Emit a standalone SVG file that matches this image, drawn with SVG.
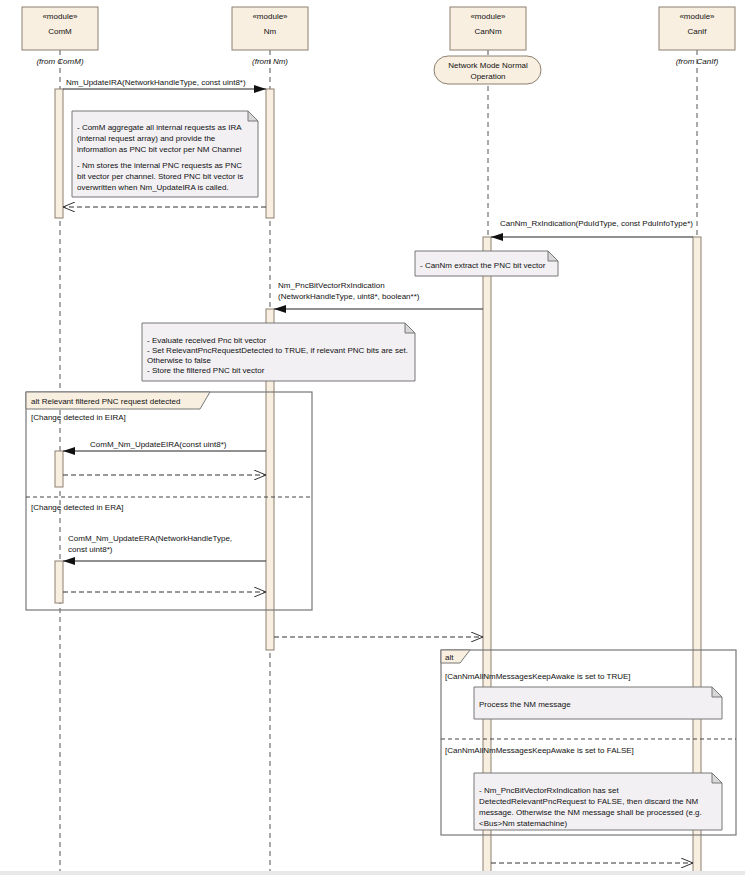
<svg xmlns="http://www.w3.org/2000/svg" width="745" height="875" viewBox="0 0 745 875">
<style>
text{font-family:"Liberation Sans",Arial,sans-serif;font-size:8px;fill:#111}
.hd{fill:#f9efe0;stroke:#8c8070;stroke-width:1}
.act{fill:#f9efe0;stroke:#8c8070;stroke-width:1}
.ll{stroke:#555;stroke-width:1;stroke-dasharray:5,4;fill:none}
.note{fill:#f3f0f4;stroke:#777;stroke-width:1}
.fold{fill:#d8d8d8;stroke:#777;stroke-width:1}
.msg{stroke:#222;stroke-width:1;fill:none}
.ret{stroke:#333;stroke-width:1;stroke-dasharray:5,3;fill:none}
.frame{fill:none;stroke:#777;stroke-width:1.2}
.div{stroke:#444;stroke-width:1;stroke-dasharray:4,3}
.it{font-style:italic}
</style>
<defs>
<marker id="fa" markerWidth="12" markerHeight="8" refX="12" refY="4" orient="auto" markerUnits="userSpaceOnUse"><path d="M0,0 L12,4 L0,8 z" fill="#111"/></marker>
<marker id="oa" markerWidth="12" markerHeight="10" refX="12" refY="5" orient="auto" markerUnits="userSpaceOnUse"><path d="M0,0 L12,5 L0,10" fill="none" stroke="#333"/></marker>
</defs>
<rect x="0" y="0" width="745" height="875" fill="#fff"/>
<g id="lifelines">
<line class="ll" x1="60" y1="50" x2="60" y2="875"/>
<line class="ll" x1="270" y1="50" x2="270" y2="875"/>
<line class="ll" x1="488" y1="50" x2="488" y2="875"/>
<line class="ll" x1="697" y1="50" x2="697" y2="875"/>
</g>
<g id="ComM"><rect class="hd" x="22" y="7" width="76" height="43"/><text x="60" y="19" text-anchor="middle">«module»</text><text x="60" y="34" text-anchor="middle">ComM</text><text class="it" x="60" y="64" text-anchor="middle">(from ComM)</text></g>
<g id="Nm"><rect class="hd" x="232" y="7" width="76" height="43"/><text x="270" y="19" text-anchor="middle">«module»</text><text x="270" y="34" text-anchor="middle">Nm</text><text class="it" x="270" y="64" text-anchor="middle">(from Nm)</text></g>
<g id="CanNm"><rect class="hd" x="450" y="7" width="76" height="43"/><text x="488" y="19" text-anchor="middle">«module»</text><text x="488" y="34" text-anchor="middle">CanNm</text></g>
<g id="CanIf"><rect class="hd" x="659" y="7" width="76" height="43"/><text x="697" y="19" text-anchor="middle">«module»</text><text x="697" y="34" text-anchor="middle">CanIf</text><text class="it" x="697" y="64" text-anchor="middle">(from CanIf)</text></g>
<g id="state"><rect class="hd" x="434" y="56" width="107" height="28" rx="14"/><text x="488" y="68" text-anchor="middle">Network Mode Normal</text><text x="488" y="79" text-anchor="middle">Operation</text></g>
<g id="activations">
<rect class="act" x="55" y="89" width="8" height="129"/>
<rect class="act" x="266" y="89" width="8" height="129"/>
<rect class="act" x="483" y="237" width="8" height="638"/>
<rect class="act" x="693" y="237" width="8" height="638"/>
<rect class="act" x="266" y="309" width="8" height="341"/>
<rect class="act" x="55" y="451" width="8" height="36"/>
<rect class="act" x="55" y="561" width="8" height="42"/>
</g>
<g id="notes">
<path class="note" d="M72,111 H248 L258,121 V197 H72 Z"/><path class="fold" d="M248,111 V121 H258 Z"/>
<text x="77" y="130">- ComM aggregate all internal requests as IRA</text>
<text x="77" y="141">(internal request array) and provide the</text>
<text x="77" y="152">information as PNC bit vector per NM Channel</text>
<text x="77" y="168">- Nm stores the internal PNC requests as PNC</text>
<text x="77" y="179">bit vector per channel. Stored PNC bit vector is</text>
<text x="77" y="190">overwritten when Nm_UpdateIRA is called.</text>
<path class="note" d="M415,251 H548 L558,261 V276 H415 Z"/><path class="fold" d="M548,251 V261 H558 Z"/>
<text x="420" y="268">- CanNm extract the PNC bit vector</text>
<path class="note" d="M142,323 H405 L415,333 V381 H142 Z"/><path class="fold" d="M405,323 V333 H415 Z"/>
<text x="147" y="343">- Evaluate received Pnc bit vector</text>
<text x="147" y="353">- Set RelevantPncRequestDetected to TRUE, if relevant PNC bits are set.</text>
<text x="147" y="363">Otherwise to false</text>
<text x="147" y="373">- Store the filtered PNC bit vector</text>
<path class="note" d="M474,687 H712 L722,697 V719 H474 Z"/><path class="fold" d="M712,687 V697 H722 Z"/>
<text x="479" y="707">Process the NM message</text>
<path class="note" d="M474,773 H712 L722,783 V830 H474 Z"/><path class="fold" d="M712,773 V783 H722 Z"/>
<text x="479" y="793">- Nm_PncBitVectorRxIndication has set</text>
<text x="479" y="804">DetectedRelevantPncRequest to FALSE, then discard the NM</text>
<text x="479" y="815">message. Otherwise the NM message shall be processed (e.g.</text>
<text x="479" y="826">&lt;Bus&gt;Nm statemachine)</text>
</g>
<g id="frames">
<rect class="frame" x="26" y="392" width="286" height="218"/>
<path d="M26,392 H210 L200,409 H26 Z" fill="#f9efe0" stroke="#777"/>
<text x="31" y="404">alt Relevant filtered PNC request detected</text>
<text x="31" y="420">[Change detected in EIRA]</text>
<line class="div" x1="26" y1="497" x2="312" y2="497"/>
<text x="31" y="510">[Change detected in ERA]</text>
<rect class="frame" x="441" y="650" width="295" height="185"/>
<path d="M441,650 H470 L460,663 H441 Z" fill="#f9efe0" stroke="#777"/>
<text x="445" y="660">alt</text>
<text x="445" y="679">[CanNmAllNmMessagesKeepAwake is set to TRUE]</text>
<line class="div" x1="441" y1="739" x2="736" y2="739"/>
<text x="445" y="753">[CanNmAllNmMessagesKeepAwake is set to FALSE]</text>
</g>
<g id="connectors">
<line class="msg" x1="63" y1="89" x2="266" y2="89" marker-end="url(#fa)"/>
<text x="66" y="85">Nm_UpdateIRA(NetworkHandleType, const uint8*)</text>
<line class="ret" x1="266" y1="207" x2="63" y2="207" marker-end="url(#oa)"/>
<line class="msg" x1="693" y1="237" x2="491" y2="237" marker-end="url(#fa)"/>
<text x="500" y="226">CanNm_RxIndication(PduIdType, const PduInfoType*)</text>
<line class="msg" x1="483" y1="309" x2="274" y2="309" marker-end="url(#fa)"/>
<text x="278" y="288">Nm_PncBitVectorRxIndication</text>
<text x="278" y="299">(NetworkHandleType, uint8*, boolean**)</text>
<line class="msg" x1="266" y1="451" x2="63" y2="451" marker-end="url(#fa)"/>
<text x="90" y="447">ComM_Nm_UpdateEIRA(const uint8*)</text>
<line class="ret" x1="63" y1="475" x2="266" y2="475" marker-end="url(#oa)"/>
<line class="msg" x1="266" y1="561" x2="63" y2="561" marker-end="url(#fa)"/>
<text x="68" y="541">ComM_Nm_UpdateERA(NetworkHandleType,</text>
<text x="68" y="552">const uint8*)</text>
<line class="ret" x1="63" y1="592" x2="266" y2="592" marker-end="url(#oa)"/>
<line class="ret" x1="274" y1="637" x2="483" y2="637" marker-end="url(#oa)"/>
<line class="ret" x1="491" y1="863" x2="693" y2="863" marker-end="url(#oa)"/>
</g>
<rect x="0" y="871" width="745" height="4" fill="#e8e8e8"/>
</svg>
